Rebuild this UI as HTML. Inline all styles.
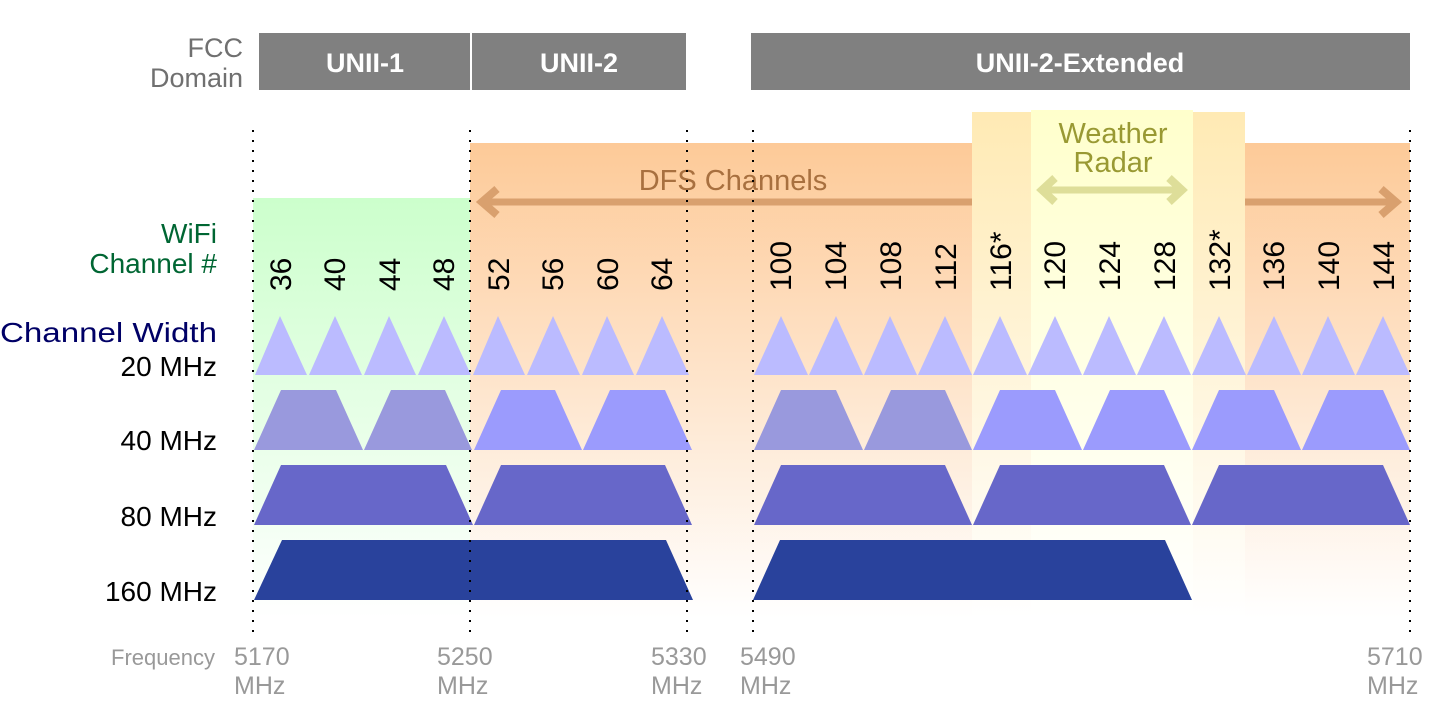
<!DOCTYPE html>
<html><head><meta charset="utf-8"><style>
html,body{margin:0;padding:0;background:#fff;}
svg{display:block;font-family:"Liberation Sans",sans-serif;}
</style></head><body>
<svg width="1441" height="721" viewBox="0 0 1441 721" xmlns="http://www.w3.org/2000/svg">
<defs>
<linearGradient id="gG" x1="0" y1="0" x2="0" y2="1"><stop offset="0" stop-color="#ccffcc"/><stop offset="1" stop-color="#ffffff"/></linearGradient>
<linearGradient id="gO" x1="0" y1="0" x2="0" y2="1"><stop offset="0" stop-color="#fdca98"/><stop offset="1" stop-color="#ffffff"/></linearGradient>
<linearGradient id="gY" x1="0" y1="0" x2="0" y2="1"><stop offset="0" stop-color="#ffeab4"/><stop offset="1" stop-color="#ffffff"/></linearGradient>
<linearGradient id="gY2" x1="0" y1="0" x2="0" y2="1"><stop offset="0" stop-color="#ffffcc"/><stop offset="1" stop-color="#ffffff"/></linearGradient>
</defs>
<rect x="253" y="198" width="217" height="420" fill="url(#gG)"/>
<rect x="470" y="143" width="940" height="475" fill="url(#gO)"/>
<rect x="972" y="112" width="273" height="506" fill="url(#gY)"/>
<rect x="1031" y="110" width="162" height="508" fill="url(#gY2)"/>

<rect x="259" y="33" width="211" height="57" fill="#808080"/>
<rect x="472" y="33" width="214" height="57" fill="#808080"/>
<rect x="751" y="33" width="659" height="57" fill="#808080"/>
<g fill="#fff" font-weight="bold" font-size="27" text-anchor="middle">
<text x="365" y="72">UNII-1</text><text x="579" y="72">UNII-2</text><text x="1080" y="72">UNII-2-Extended</text>
</g>
<g fill="#707070" font-size="27" text-anchor="end">
<text x="243" y="57">FCC</text><text x="243" y="87">Domain</text>
</g>

<text x="733" y="190" fill="#a8703f" font-size="29" text-anchor="middle">DFS Channels</text>
<g stroke="#d9a06e" stroke-width="7" fill="none">
<line x1="482" y1="202" x2="972" y2="202"/>
<polyline points="497,189 482,202 497,215" stroke-width="8"/>
<line x1="1245" y1="202" x2="1396" y2="202"/>
<polyline points="1381,189 1396,202 1381,215" stroke-width="8"/>
</g>
<g fill="#999933" font-size="29" text-anchor="middle">
<text x="1113" y="143">Weather</text><text x="1113" y="172">Radar</text>
</g>
<g stroke="#dede99" stroke-width="7" fill="none">
<line x1="1042" y1="190" x2="1182" y2="190"/>
<polyline points="1055,178 1042,190 1055,202" stroke-width="8"/>
<polyline points="1169,178 1182,190 1169,202" stroke-width="8"/>
</g>

<g font-size="28" text-anchor="end">
<text x="217" y="243" fill="#006633">WiFi</text>
<text x="217" y="273" fill="#006633">Channel #</text>
<text x="217" y="342" fill="#000066" textLength="217" lengthAdjust="spacingAndGlyphs">Channel Width</text>
<text x="217" y="376" fill="#000">20 MHz</text>
<text x="217" y="450" fill="#000">40 MHz</text>
<text x="217" y="526" fill="#000">80 MHz</text>
<text x="217" y="601" fill="#000">160 MHz</text>
</g>
<text x="215" y="665" fill="#999" font-size="22" text-anchor="end">Frequency</text>
<g fill="#999" font-size="25">
<text x="234" y="665">5170</text><text x="234" y="694">MHz</text>
<text x="437" y="665">5250</text><text x="437" y="694">MHz</text>
<text x="651" y="665">5330</text><text x="651" y="694">MHz</text>
<text x="740" y="665">5490</text><text x="740" y="694">MHz</text>
<text x="1367" y="665">5710</text><text x="1367" y="694">MHz</text>
</g>

<g font-size="30" fill="#000">
<text transform="translate(291,291) rotate(-90)">36</text>
<text transform="translate(345,291) rotate(-90)">40</text>
<text transform="translate(400,291) rotate(-90)">44</text>
<text transform="translate(454,291) rotate(-90)">48</text>
<text transform="translate(509,291) rotate(-90)">52</text>
<text transform="translate(563,291) rotate(-90)">56</text>
<text transform="translate(618,291) rotate(-90)">60</text>
<text transform="translate(672,291) rotate(-90)">64</text>
<text transform="translate(791,291) rotate(-90)">100</text>
<text transform="translate(846,291) rotate(-90)">104</text>
<text transform="translate(901,291) rotate(-90)">108</text>
<text transform="translate(956,291) rotate(-90)">112</text>
<text transform="translate(1011,291) rotate(-90)">116*</text>
<text transform="translate(1065,291) rotate(-90)">120</text>
<text transform="translate(1120,291) rotate(-90)">124</text>
<text transform="translate(1175,291) rotate(-90)">128</text>
<text transform="translate(1230,291) rotate(-90)">132*</text>
<text transform="translate(1284,291) rotate(-90)">136</text>
<text transform="translate(1339,291) rotate(-90)">140</text>
<text transform="translate(1394,291) rotate(-90)">144</text>
</g>

<g fill="#bbbbff">
<polygon points="255,375 280,316 307,375"/>
<polygon points="309,375 335,316 362,375"/>
<polygon points="364,375 389,316 416,375"/>
<polygon points="418,375 444,316 471,375"/>
<polygon points="473,375 498,316 525,375"/>
<polygon points="527,375 553,316 580,375"/>
<polygon points="582,375 607,316 634,375"/>
<polygon points="636,375 662,316 689,375"/>
<polygon points="754,375 781,316 808,375"/>
<polygon points="809,375 836,316 863,375"/>
<polygon points="864,375 890,316 917,375"/>
<polygon points="918,375 945,316 972,375"/>
<polygon points="973,375 1000,316 1027,375"/>
<polygon points="1028,375 1055,316 1082,375"/>
<polygon points="1083,375 1109,316 1136,375"/>
<polygon points="1137,375 1164,316 1191,375"/>
<polygon points="1192,375 1219,316 1246,375"/>
<polygon points="1247,375 1274,316 1301,375"/>
<polygon points="1302,375 1328,316 1355,375"/>
<polygon points="1356,375 1383,316 1410,375"/>
</g>
<g fill="#9999dd">
<polygon points="254,450 281,390 336,390 363,450"/>
<polygon points="364,450 391,390 445,390 472,450"/>
<polygon points="754,450 781,390 836,390 863,450"/>
<polygon points="864,450 891,390 945,390 972,450"/>
</g>
<g fill="#9b9bfd">
<polygon points="474,450 501,390 555,390 582,450"/>
<polygon points="583,450 610,390 665,390 692,450"/>
<polygon points="973,450 1000,390 1055,390 1082,450"/>
<polygon points="1083,450 1110,390 1164,390 1191,450"/>
<polygon points="1192,450 1219,390 1274,390 1301,450"/>
<polygon points="1302,450 1329,390 1383,390 1410,450"/>
</g>
<g fill="#6767c9">
<polygon points="254,525 281,465 446,465 473,525"/>
<polygon points="474,525 501,465 665,465 692,525"/>
<polygon points="754,525 781,465 945,465 972,525"/>
<polygon points="973,525 1000,465 1164,465 1191,525"/>
<polygon points="1192,525 1219,465 1383,465 1410,525"/>
</g>
<g fill="#29429c">
<polygon points="254,600 282,540 666,540 693,600"/>
<polygon points="753,600 780,540 1165,540 1192,600"/>
</g>

<g stroke="#000" stroke-width="2" stroke-dasharray="2,8">
<line x1="253" y1="130" x2="253" y2="640"/>
<line x1="470" y1="130" x2="470" y2="640"/>
<line x1="687" y1="130" x2="687" y2="640"/>
<line x1="753" y1="130" x2="753" y2="640"/>
<line x1="1410" y1="130" x2="1410" y2="640"/>
</g>
</svg>
</body></html>
